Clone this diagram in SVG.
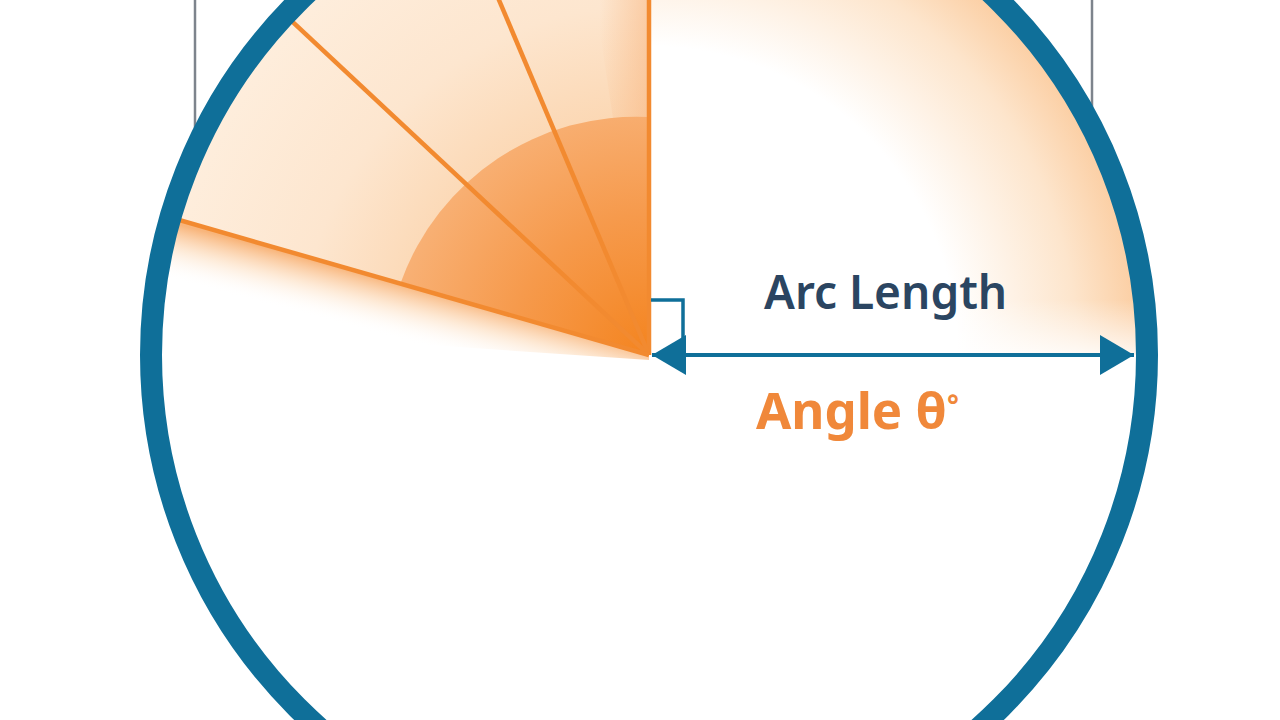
<svg xmlns="http://www.w3.org/2000/svg" width="1280" height="720" viewBox="0 0 1280 720">
  <defs>
    <style>
      .ray { stroke: #f28a30; stroke-width: 4.5; stroke-linecap: butt; fill: none; }
      .guide { stroke: #7d848c; stroke-width: 2.5; fill: none; }
      .blue { stroke: #0f6f99; fill: none; }
      .lbl { font-family: "Noto Sans", "Open Sans", "DejaVu Sans", sans-serif; }
    </style>
    <clipPath id="inner">
      <circle cx="649" cy="355" r="488"/>
    </clipPath>
    <radialGradient id="quadGlow" gradientUnits="userSpaceOnUse" cx="649" cy="355" r="498">
      <stop offset="0" stop-color="#ffffff"/>
      <stop offset="0.62" stop-color="#ffffff"/>
      <stop offset="0.86" stop-color="#fde5cc"/>
      <stop offset="1" stop-color="#fbcc9f"/>
    </radialGradient>
    <linearGradient id="quadFadeY" gradientUnits="userSpaceOnUse" x1="0" y1="300" x2="0" y2="360">
      <stop offset="0" stop-color="#ffffff" stop-opacity="0"/>
      <stop offset="1" stop-color="#ffffff" stop-opacity="0.9"/>
    </linearGradient>
    <radialGradient id="outerSect" gradientUnits="userSpaceOnUse" cx="649" cy="355" r="500">
      <stop offset="0.4" stop-color="#fbd3ab"/>
      <stop offset="0.7" stop-color="#fde6cf"/>
      <stop offset="1" stop-color="#feeedd"/>
    </radialGradient>
    <radialGradient id="innerSect" gradientUnits="userSpaceOnUse" cx="649" cy="355" r="255">
      <stop offset="0" stop-color="#f4841f"/>
      <stop offset="0.55" stop-color="#f69a4c"/>
      <stop offset="1" stop-color="#f8b074"/>
    </radialGradient>
    <linearGradient id="belowFade" gradientUnits="userSpaceOnUse" x1="400" y1="283" x2="386" y2="336">
      <stop offset="0" stop-color="#f7a864" stop-opacity="0.85"/>
      <stop offset="0.45" stop-color="#fcd6b0" stop-opacity="0.5"/>
      <stop offset="1" stop-color="#ffffff" stop-opacity="0"/>
    </linearGradient>
    <linearGradient id="nearVert" gradientUnits="userSpaceOnUse" x1="600" y1="0" x2="648" y2="0">
      <stop offset="0" stop-color="#f8b27a" stop-opacity="0"/>
      <stop offset="1" stop-color="#f8b27a" stop-opacity="0.5"/>
    </linearGradient>
    <marker id="ah" viewBox="0 0 34 40" refX="34" refY="20" markerWidth="34" markerHeight="40" markerUnits="userSpaceOnUse" orient="auto-start-reverse">
      <path d="M0,0 L34,20 L0,40 Z" fill="#0f6f99"/>
    </marker>
  </defs>

  <rect width="1280" height="720" fill="#ffffff"/>

  <g id="guides">
    <line class="guide" x1="195" y1="0" x2="195" y2="128"/>
    <line class="guide" x1="1092" y1="0" x2="1092" y2="108"/>
  </g>

  <g id="fills" clip-path="url(#inner)">
    <rect x="649" y="-150" width="520" height="505" fill="url(#quadGlow)"/>
    <rect x="649" y="290" width="520" height="70" fill="url(#quadFadeY)"/>
    <path d="M649,355 L649,-245 L415.6,-197.3 L211.2,-54.2 L73.2,189.6 Z" fill="url(#outerSect)"/>
    <path d="M649,355 L649,-245 L560,-230 Z" fill="url(#nearVert)"/>
    <path d="M649,355 L73.2,189.6 L60,320 L649,360 Z" fill="url(#belowFade)"/>
  </g>

  <g id="inner-sector">
    <path d="M649,355 L649,117 A250,250 0 0 0 401,282 Z" fill="url(#innerSect)"/>
  </g>

  <g id="rays" clip-path="url(#inner)">
    <line class="ray" x1="649" y1="355" x2="649" y2="-245"/>
    <line class="ray" x1="649" y1="355" x2="415.6" y2="-197.3"/>
    <line class="ray" x1="649" y1="355" x2="211.2" y2="-54.2"/>
    <line class="ray" x1="649" y1="355" x2="73.2" y2="189.6"/>
  </g>

  <g id="circle">
    <circle class="blue" cx="649" cy="355" r="498" stroke-width="22"/>
  </g>

  <g id="connectors">
    <polyline class="blue" points="651,300 683,300 683,338" stroke-width="3.5"/>
    <line class="blue" x1="652" y1="355" x2="1134" y2="355" stroke-width="4" marker-start="url(#ah)" marker-end="url(#ah)"/>
  </g>

  <g id="labels">
    <text class="lbl" x="764" y="309" font-size="46" font-weight="600" fill="#2b4561">Arc Length</text>
    <text class="lbl" x="756" y="429" font-size="51" font-weight="700" fill="#f0883a">Angle θ<tspan font-size="28" dy="-14">°</tspan></text>
  </g>
</svg>
